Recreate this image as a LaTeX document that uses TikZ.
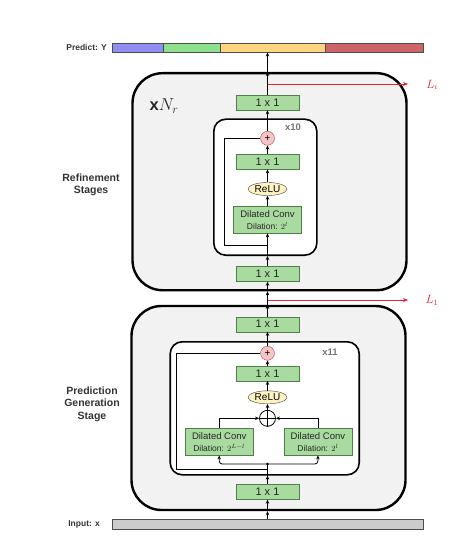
\documentclass[tikz,border=0pt]{standalone}
\usepackage{xcolor}
\usepackage{fontspec}
\setsansfont{Liberation Sans}
\usepackage{tikz}
\usetikzlibrary{arrows.meta,shapes.geometric,positioning}
\definecolor{convfill}{HTML}{A9DBA0}
\definecolor{convedge}{HTML}{4F7F48}
\definecolor{relufill}{HTML}{FFF3C4}
\definecolor{addfill}{HTML}{F5C4C6}
\definecolor{addedge}{HTML}{B34A4F}
\definecolor{stagefill}{HTML}{F2F2F2}
\definecolor{labelgray}{HTML}{333333}
\definecolor{ybarblue}{HTML}{8F8FF2}
\definecolor{ybargreen}{HTML}{8EE08E}
\definecolor{ybaryellow}{HTML}{FFD480}
\definecolor{ybarred}{HTML}{CC6468}
\definecolor{xbargray}{HTML}{CCCCCC}
\definecolor{lossred}{HTML}{E8202A}
\tikzset{MSTCN style/.style={x=1pt,y=-1pt,font=\sffamily},
	onebyone/.style={draw=convedge,fill=convfill,text=black!85,minimum width=63,minimum height=15,inner sep=0,font=\sffamily\fontsize{11}{12}\selectfont},
	dconv/.style={onebyone,minimum width=68,minimum height=27,align=center,font=\sffamily\fontsize{9.5}{11}\selectfont},
	relu/.style={ellipse,draw=black!75,fill=relufill,minimum width=39,minimum height=13,inner sep=0,font=\sffamily\fontsize{10}{11}\selectfont},
	addop/.style={circle,draw=addedge,fill=addfill,minimum size=14,inner sep=0,font=\sffamily\fontsize{10}{10}\selectfont},
	sumop/.style={circle,draw=black,fill=white,minimum size=16,inner sep=0,line width=0.8pt},
	stagebox/.style={draw,line width=2.4pt,rounded corners=30,fill=stagefill},
	blockbox/.style={draw,line width=1.6pt,rounded corners=12,fill=white},
	ybar/.style={draw=black!70,minimum height=9.5,inner sep=0},
	barlabel/.style={font=\sffamily\bfseries\fontsize{8.5}{10}\selectfont,text=labelgray,inner sep=0},
	stagelabel/.style={font=\sffamily\bfseries\fontsize{10.5}{12.5}\selectfont,text=labelgray,align=center},
	repeatlabel/.style={font=\sffamily\bfseries\fontsize{9.5}{10}\selectfont,text=black!55},
	flow/.style={arrows={-Stealth[length=4pt,width=3.5pt]},line width=0.8pt},
	skip/.style={line width=1pt},
	loss/.style={lossred,arrows={-Stealth[length=5pt,width=4pt]},line width=0.8pt},
	losslabel/.style={text=lossred,font=\fontsize{11.5}{12}\selectfont}}
\newcommand{\dilfont}{\fontsize{8.5}{9}\selectfont}

\begin{document}
\begin{tikzpicture}[MSTCN style]
	\useasboundingbox (0,0) rectangle (474,545);
	
	\node[stagebox, minimum width=274, minimum height=217] (refstage) at (269.5,181.7) {};
	\node[stagebox, minimum width=274, minimum height=204] (predstage) at (268.5,408) {};
	\node[blockbox, minimum width=103, minimum height=136] (refblock) at (265.3,187.2) {};
	\node[blockbox, minimum width=189, minimum height=133] (predblock) at (264.7,408.3) {};
	
	\node[stagelabel] (reflabel) at (91,185) {Refinement\\Stages};
	\node[stagelabel] (predlabel) at (92,404) {Prediction\\Generation\\Stage};
	
	\node[barlabel, anchor=east] (ylabel) at (107,47.5) {Predict: Y};
	\node[ybar, fill=ybarblue, minimum width=51.5] (yblue) at (137.75,47.5) {};
	\node[ybar, fill=ybargreen, minimum width=56.5] (ygreen) at (191.75,47.5) {};
	\node[ybar, fill=ybaryellow, minimum width=105.5] (yyellow) at (272.75,47.5) {};
	\node[ybar, fill=ybarred, minimum width=97.5] (yred) at (374.25,47.5) {};
	
	\node[barlabel, anchor=east] (xlabel) at (100,524.2) {Input: x};
	\node[ybar, fill=xbargray, minimum width=311] (xbar) at (267.5,524.2) {};
	
	\node[font=\fontsize{16.5}{17}\selectfont, text=black!85] (rnum) at (164,106) {{\sffamily\bfseries x}$N_r$};
	\node[repeatlabel] (rrep) at (293,127) {x10};
	\node[onebyone] (rout) at (267.5,102.5) {1 x 1};
	\node[addop] (radd) at (267.5,138.3) {+};
	\node[onebyone] (rconv) at (267.5,161.7) {1 x 1};
	\node[relu] (rrelu) at (267.5,189) {ReLU};
	\node[dconv] (rdil) at (267.5,219.7) {Dilated Conv\\[1pt]{\dilfont Dilation: $2^l$}};
	\node[onebyone] (rin) at (267.5,274) {1 x 1};
	
	\node[repeatlabel] (prep) at (330,352) {x11};
	\node[onebyone] (pout) at (267.5,324.2) {1 x 1};
	\node[addop] (padd) at (267.5,353.3) {+};
	\node[onebyone] (pconv) at (267.5,373.3) {1 x 1};
	\node[relu] (prelu) at (267.5,397.3) {ReLU};
	\node[sumop] (psum) at (267.5,418.3) {};
	\node[dconv] (pdilL) at (219.2,441.7) {Dilated Conv\\[1pt]{\dilfont Dilation: $2^{L-l}$}};
	\node[dconv] (pdilR) at (317.9,441.7) {Dilated Conv\\[1pt]{\dilfont Dilation: $2^l$}};
	\node[onebyone] (pin) at (267.5,492) {1 x 1};
	
	\coordinate (rskip) at (267.5,245);
	\coordinate (rloss) at (267.5,84);
	\coordinate (rlossend) at (408,84);
	\coordinate (ploss) at (267.5,300);
	\coordinate (plossend) at (408,300);
	\coordinate (psplit) at (267.5,464);
	\coordinate (pskip) at (267.5,469);
	
	\draw[line width=0.8pt] (psum.north) -- (psum.south) (psum.west) -- (psum.east);
	
	\draw[flow] (xbar.north) -- (xbar.north |- predstage.south);
	\draw[flow] (pin.south |- predstage.south) -- (pin.south);
	\draw[flow] (pin.north) -- (pin.north |- predblock.south);
	\draw[line width=0.8pt] (pin.north |- predblock.south) -- (psplit);
	\draw[flow, rounded corners=3] (psplit) -| (pdilL.south);
	\draw[flow, rounded corners=3] (psplit) -| (pdilR.south);
	\fill (psplit) circle (1.3);
	\draw[flow] (pdilL.north) |- (psum.west);
	\draw[flow] (pdilR.north) |- (psum.east);
	\draw[flow] (psum.north) -- (prelu.south);
	\draw[flow] (prelu.north) -- (pconv.south);
	\draw[flow] (pconv.north) -- (padd.south);
	\draw[flow] (padd.north) -- (pout.south);
	\draw[skip] (pskip) -- ++(-91.5,0) |- (padd.west);
	\draw[flow] (pout.north) -- (pout.north |- predstage.north);
	\draw[flow] (pout.north |- predstage.north) -- (rin.south |- refstage.south);
	\draw[flow] (rin.south |- refstage.south) -- (rin.south);
	
	\draw[flow] (rin.north) -- (rin.north |- refblock.south);
	\draw[flow] (rin.north |- refblock.south) -- (rdil.south);
	\draw[skip] (rskip) -- ++(-43.5,0) |- (radd.west);
	\draw[flow] (rdil.north) -- (rrelu.south);
	\draw[flow] (rrelu.north) -- (rconv.south);
	\draw[flow] (rconv.north) -- (radd.south);
	\draw[flow] (radd.north) -- (rout.south);
	\draw[flow] (rout.north) -- (rout.north |- refstage.north);
	\draw[flow] (rout.north |- refstage.north) -- (rout.north |- yyellow.south);
	
	\draw[loss] (rloss) -- (rlossend);
	\draw[loss] (ploss) -- (plossend);
	\node[losslabel] (rlosslabel) at (432,85) {$L_i$};
	\node[losslabel] (plosslabel) at (432,300) {$L_1$};
\end{tikzpicture}
\end{document}
